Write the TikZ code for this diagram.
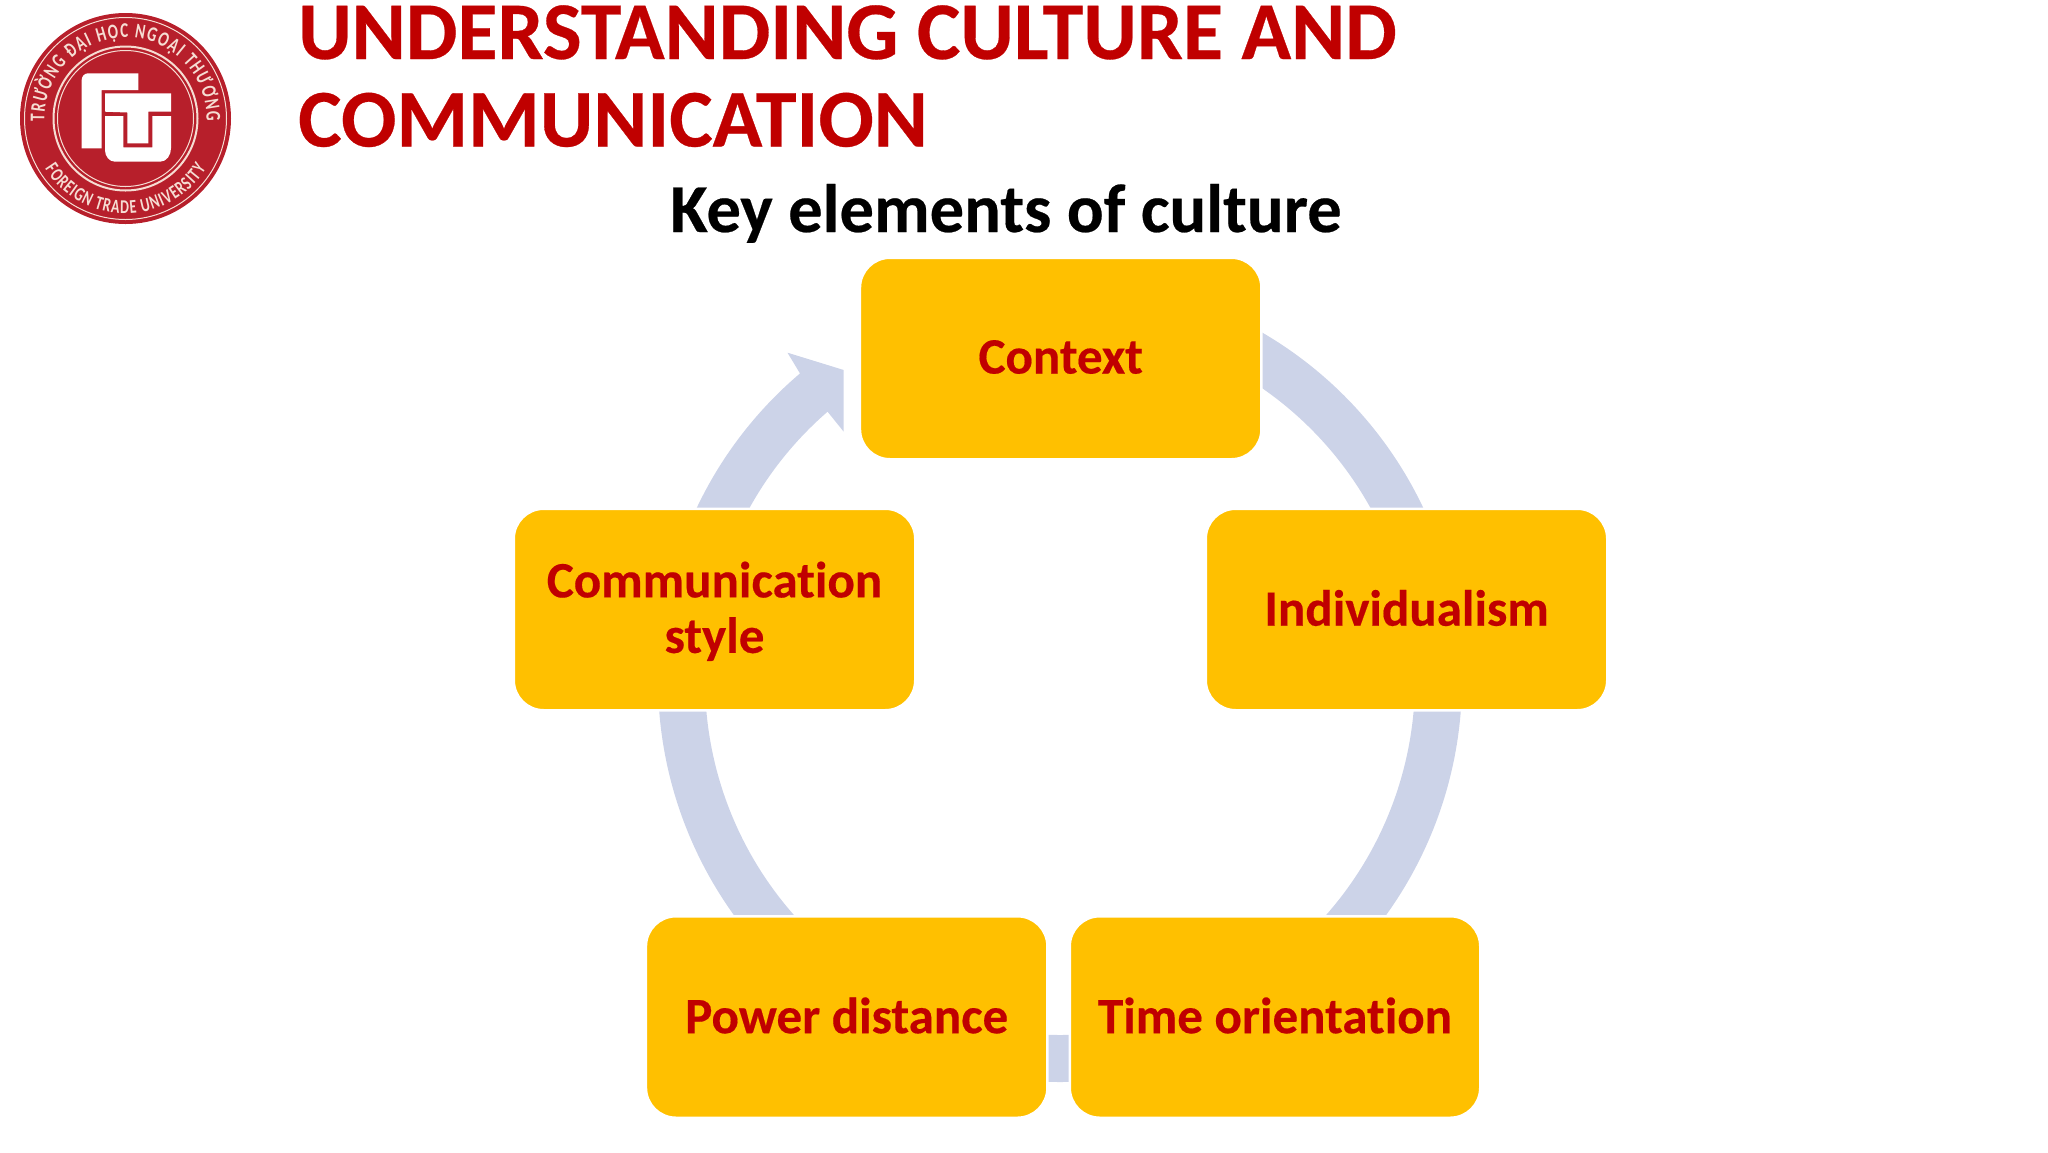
\documentclass[tikz,border=0pt]{standalone}
\usepackage{fontspec}
\setmainfont{Carlito}[Ligatures=NoCommon,BoldFeatures={FakeBold=0.35}]
\newfontfamily\logofont{Carlito Bold}[FakeStretch=0.72]
\usetikzlibrary{decorations.text}
\definecolor{boxfill}{HTML}{FFC000}
\definecolor{redtext}{HTML}{C00000}
\definecolor{ringcol}{HTML}{CCD3E8}
\definecolor{logored}{HTML}{B71F2B}
\definecolor{logopale}{HTML}{F6DDD3}
\newcommand{\nudge}[2]{\raisebox{#1}[\height][\depth]{#2}}
\tikzset{
  x=1pt,y=1pt,
  box/.style={rectangle,rounded corners=30pt,fill=boxfill,draw=white,line width=2.5pt,
    minimum width=401.5pt,minimum height=201.5pt,inner sep=0pt,align=center,
    text=redtext,font=\fontsize{51}{56}\selectfont\bfseries},
  ringline/.style={draw=ringcol,line width=47pt,line join=round},
  ringfill/.style={fill=ringcol},
  titletext/.style={anchor=base west,text=redtext,inner sep=0pt,font=\fontsize{82}{82}\selectfont\bfseries},
  subtext/.style={anchor=base,text=black,inner sep=0pt,font=\fontsize{68.5}{68.5}\selectfont\bfseries},
  logoshape/.style={fill=white,rounded corners=0pt},
}
\begin{document}
\begin{tikzpicture}
\useasboundingbox (0,0) rectangle (2048,-1152);
\coordinate (ring) at (1060,-680);
% titles
\node[titletext] (title1) at (298,-59) {UNDERSTANDING CULTURE AND};
\node[titletext] (title2) at (298,-146.5) {COMMUNICATION};
\node[subtext] (sub) at (1006,-232) {Key elements of culture};
% boxes are placed first so that connectors can start from them
\path (1060.7,-358.5) node[box,name=ctx,opacity=0] {}
      (1406.5,-609.5) node[box,name=ind,opacity=0] {}
      (1275,-1017) node[box,name=tim,opacity=0,minimum width=410.5pt] {}
      (846.7,-1017) node[box,name=pow,opacity=0] {}
      (714.5,-609.5) node[box,name=com,opacity=0] {};
% ring
\draw[ringline] (ctx.center) -- ([shift={(ring)}]62:378.5) arc[start angle=62,end angle=18.5,radius=378.5] -- (ind.center);
\draw[ringline] (ind.center) -- ([shift={(ring)}]4.5:378.5) arc[start angle=4.5,end angle=-50,radius=378.5] -- (tim.center);
\draw[ringline] (tim.center) -- ([shift={(ring)}]-70:378.5) arc[start angle=-70,end angle=-110,radius=378.5] -- (pow.center);
\draw[ringline] (pow.center) -- ([shift={(ring)}]230:378.5) arc[start angle=230,end angle=175,radius=378.5] -- (com.center);
\coordinate (headA) at (787.5,-352.7);
\coordinate (headB) at (843.7,-370);
\coordinate (headC) at (843.7,-431.7);
\fill[ringfill] (com.center) -- ([shift={(ring)}]165:402) arc[start angle=165,end angle=130.3,radius=402]
   -- (headA) -- (headB) -- (headC) -- ([shift={(ring)}]130.9:355) arc[start angle=130.9,end angle=165,radius=355] -- cycle;
% visible boxes
\node[box] at (ctx) {\nudge{1.5pt}{Context}};
\node[box] at (ind) {\nudge{1.5pt}{Individualism}};
\node[box,minimum width=410.5pt] at (tim) {\nudge{1.5pt}{Time orientation}};
\node[box] at (pow) {\nudge{1.5pt}{Power distance}};
\node[box] at (com) {\nudge{-2pt}{Communication}\\\nudge{-1.5pt}{style}};
% logo
\coordinate (logo) at (125.5,-118.5);
\fill[logored] (logo) circle[radius=105.5];
\draw[logopale,line width=1pt] (logo) circle[radius=101];
\draw[logopale,line width=2pt] (logo) circle[radius=72];
\draw[logopale,line width=1pt] (logo) circle[radius=68];
\fill[logoshape] (81.7,-148.3) -- (81.7,-80) to[out=90,in=180] (88,-73.3) -- (138.3,-73.3) -- (138.3,-90)
  -- (101.7,-90) -- (101.7,-148.3) -- cycle;
\fill[logoshape] (105,-93.3) -- (171,-93.3) -- (171,-111.7) -- (148.3,-111.7) -- (148.3,-143.3)
  -- (127.3,-143.3) -- (127.3,-112.5) -- (105,-111.7) -- cycle;
\fill[logoshape] (105,-116) -- (123.3,-116) -- (123.3,-147.3) -- (152.3,-147.3) -- (152.3,-116)
  -- (171,-116) -- (171,-148.3) to[out=-90,in=0] (160,-161.7) -- (115,-161.7) to[out=180,in=-90] (105,-150) -- cycle;
\path[decorate,decoration={text along path,text align={fit to path},text color=logopale,
    text={|\logofont\fontsize{21}{21}\selectfont|TRƯỜNG ĐẠI HỌC NGOẠI THƯƠNG}}]
  ([shift={(logo)}]182:81) arc[start angle=182,end angle=-2,radius=81];
\path[decorate,decoration={text along path,text align={fit to path},text color=logopale,
    text={|\logofont\fontsize{19.5}{19.5}\selectfont|FOREIGN TRADE UNIVERSITY}}]
  ([shift={(logo)}]212:95) arc[start angle=212,end angle=328,radius=95];
\end{tikzpicture}
\end{document}
